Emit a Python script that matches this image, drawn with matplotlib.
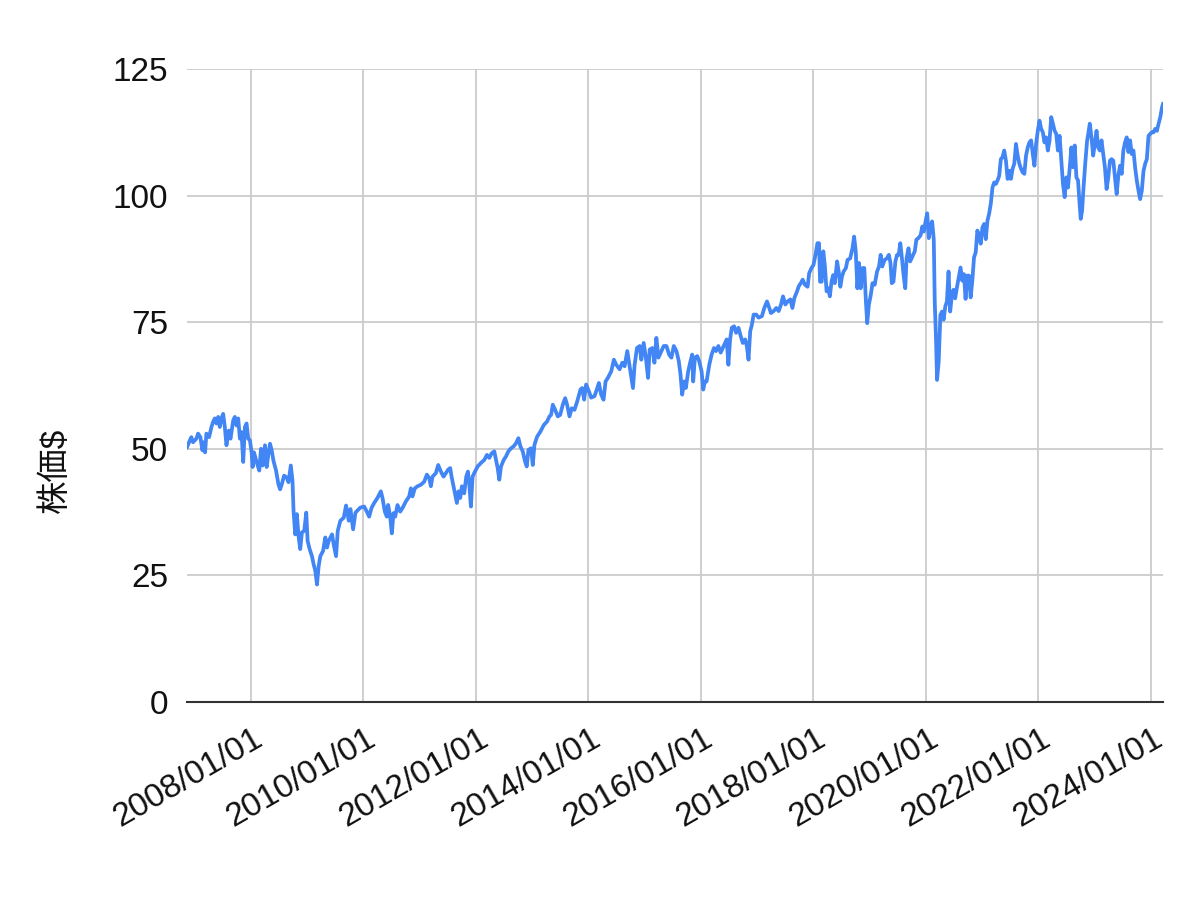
import matplotlib
matplotlib.use("Agg")
import matplotlib.pyplot as plt
import matplotlib.dates as mdates
import matplotlib.transforms as mtransforms
from datetime import datetime, timedelta

# ---- data (decimal year, price) ----
years_2007_2009 = [2006.863, 2006.911, 2006.940, 2006.970, 2007.030, 2007.060, 2007.101, 2007.137, 2007.161, 2007.185,
                   2007.208, 2007.256, 2007.298, 2007.327, 2007.357, 2007.387, 2007.417, 2007.446, 2007.476, 2007.506,
                   2007.536, 2007.565, 2007.607, 2007.637, 2007.685, 2007.714, 2007.744, 2007.774, 2007.804, 2007.833,
                   2007.863, 2007.893, 2007.923, 2007.952, 2007.982, 2008.012, 2008.030, 2008.054, 2008.101, 2008.149,
                   2008.179, 2008.208, 2008.250, 2008.280, 2008.315, 2008.339, 2008.369, 2008.399, 2008.446, 2008.488,
                   2008.518, 2008.548, 2008.589, 2008.637, 2008.667, 2008.708, 2008.738, 2008.756, 2008.786, 2008.815,
                   2008.845, 2008.875, 2008.905, 2008.946, 2008.982, 2009.006, 2009.042, 2009.083, 2009.113, 2009.143,
                   2009.173, 2009.202, 2009.232, 2009.280, 2009.321, 2009.351, 2009.381, 2009.440, 2009.470, 2009.512,
                   2009.542, 2009.589, 2009.649, 2009.690, 2009.738, 2009.768, 2009.815, 2009.857, 2009.917, 2009.946]
price_2007_2009 = [50.3, 51.6, 52.3, 51.3, 52.0, 53.0, 52.3, 49.7, 51.3, 49.3,
                   53.0, 52.3, 54.3, 55.3, 56.0, 55.0, 56.3, 54.3, 56.0, 56.9,
                   54.3, 50.7, 53.6, 52.0, 55.6, 56.3, 54.6, 56.0, 52.0, 53.3,
                   47.4, 54.3, 55.0, 52.0, 51.7, 49.3, 46.4, 49.3, 47.4, 45.7,
                   50.0, 46.7, 50.7, 46.4, 49.3, 51.0, 49.7, 47.7, 45.7, 43.0,
                   42.0, 43.0, 44.7, 44.3, 43.4, 46.7, 43.7, 37.8, 33.1, 37.1,
                   32.8, 30.2, 33.5, 33.8, 37.4, 31.8, 30.2, 28.8, 27.2, 25.9,
                   23.2, 26.8, 28.8, 29.8, 32.5, 30.5, 31.8, 33.1, 31.1, 28.8,
                   33.8, 35.8, 36.4, 38.8, 35.8, 38.1, 34.1, 37.4, 38.1, 38.4]

years_2010_2013 = [2010.012, 2010.059, 2010.101, 2010.142, 2010.190, 2010.249, 2010.309, 2010.338, 2010.380, 2010.415,
                   2010.439, 2010.475, 2010.504, 2010.534, 2010.564, 2010.605, 2010.653, 2010.694, 2010.754, 2010.813,
                   2010.843, 2010.872, 2010.914, 2010.961, 2011.021, 2011.080, 2011.128, 2011.169, 2011.199, 2011.228,
                   2011.288, 2011.329, 2011.377, 2011.424, 2011.466, 2011.507, 2011.543, 2011.567, 2011.602, 2011.632,
                   2011.662, 2011.691, 2011.721, 2011.751, 2011.792, 2011.828, 2011.858, 2011.881, 2011.911, 2011.941,
                   2011.970, 2012.030, 2012.089, 2012.148, 2012.196, 2012.237, 2012.279, 2012.326, 2012.356, 2012.386,
                   2012.415, 2012.445, 2012.493, 2012.534, 2012.576, 2012.623, 2012.671, 2012.712, 2012.754, 2012.789,
                   2012.831, 2012.872, 2012.902, 2012.932, 2012.979, 2013.009, 2013.039, 2013.086, 2013.145, 2013.205,
                   2013.264, 2013.306, 2013.335, 2013.365, 2013.407, 2013.454, 2013.496, 2013.543, 2013.585, 2013.620,
                   2013.662, 2013.703, 2013.751, 2013.798, 2013.858]
price_2010_2013 = [38.6, 37.6, 36.6, 38.3, 39.3, 40.3, 41.6, 40.3, 37.6, 36.6,
                   38.9, 36.6, 33.3, 37.3, 36.6, 38.9, 37.6, 38.3, 39.6, 40.6,
                   42.2, 40.6, 42.2, 42.6, 42.9, 43.5, 44.9, 44.2, 42.6, 44.5,
                   45.2, 46.8, 45.5, 44.5, 45.2, 45.9, 46.2, 44.5, 42.6, 40.9,
                   39.3, 41.6, 40.3, 42.6, 41.2, 44.5, 45.5, 43.2, 38.6, 44.5,
                   45.2, 46.5, 47.2, 47.8, 48.8, 48.2, 49.1, 49.5, 47.8, 46.2,
                   43.9, 46.5, 47.8, 48.5, 49.5, 50.1, 50.5, 51.1, 52.1, 50.5,
                   49.5, 47.5, 46.5, 49.8, 50.1, 46.8, 50.8, 52.4, 53.4, 54.7,
                   55.4, 56.4, 56.7, 58.7, 57.7, 56.4, 56.7, 58.7, 60.0, 58.7,
                   56.4, 58.0, 57.7, 59.3, 61.7]

years_2014_2017 = [2013.887, 2013.923, 2013.958, 2014.006, 2014.048, 2014.107, 2014.149, 2014.185, 2014.226, 2014.268,
                   2014.304, 2014.345, 2014.405, 2014.452, 2014.494, 2014.554, 2014.601, 2014.643, 2014.690, 2014.732,
                   2014.762, 2014.792, 2014.821, 2014.863, 2014.911, 2014.940, 2014.982, 2015.018, 2015.060, 2015.089,
                   2015.137, 2015.173, 2015.208, 2015.244, 2015.298, 2015.339, 2015.387, 2015.435, 2015.476, 2015.518,
                   2015.565, 2015.607, 2015.637, 2015.667, 2015.702, 2015.732, 2015.774, 2015.815, 2015.845, 2015.863,
                   2015.893, 2015.935, 2015.970, 2016.012, 2016.042, 2016.071, 2016.101, 2016.149, 2016.190, 2016.232,
                   2016.268, 2016.310, 2016.351, 2016.387, 2016.429, 2016.458, 2016.488, 2016.518, 2016.548, 2016.589,
                   2016.625, 2016.667, 2016.708, 2016.744, 2016.786, 2016.815, 2016.845, 2016.875, 2016.905, 2016.935,
                   2016.982, 2017.024, 2017.083, 2017.125, 2017.173, 2017.202, 2017.244, 2017.292, 2017.339, 2017.381,
                   2017.423, 2017.458, 2017.500, 2017.542, 2017.589, 2017.625, 2017.661, 2017.708, 2017.738, 2017.780]
price_2014_2017 = [62.0, 59.7, 62.7, 61.4, 60.1, 60.4, 61.7, 63.0, 60.7, 59.7,
                   63.3, 64.0, 65.3, 67.6, 66.6, 65.7, 67.0, 66.3, 69.3, 66.3,
                   64.3, 62.0, 66.6, 69.9, 70.3, 67.6, 70.9, 68.3, 64.0, 69.6,
                   69.9, 67.0, 71.9, 68.0, 69.3, 70.3, 70.3, 68.6, 68.0, 70.3,
                   69.3, 67.3, 64.7, 60.7, 63.3, 62.0, 65.3, 67.3, 68.6, 63.3,
                   68.0, 68.3, 67.3, 65.3, 61.7, 63.3, 63.3, 66.6, 68.6, 69.9,
                   69.3, 70.3, 69.0, 69.9, 70.9, 71.6, 66.6, 71.6, 73.9, 74.2,
                   72.9, 73.9, 72.2, 70.9, 71.6, 70.3, 67.6, 73.2, 74.5, 76.5,
                   76.5, 75.9, 76.2, 77.8, 79.1, 78.2, 76.8, 77.2, 77.8, 77.2,
                   78.5, 80.1, 78.5, 79.1, 79.5, 77.8, 79.8, 81.1, 82.1, 82.8]

years_2018_2020 = [2017.808, 2017.848, 2017.895, 2017.924, 2017.965, 2018.000, 2018.041, 2018.070, 2018.099, 2018.117,
                   2018.146, 2018.175, 2018.204, 2018.233, 2018.262, 2018.292, 2018.321, 2018.350, 2018.379, 2018.420,
                   2018.449, 2018.478, 2018.507, 2018.536, 2018.577, 2018.606, 2018.653, 2018.694, 2018.723, 2018.752,
                   2018.781, 2018.810, 2018.840, 2018.875, 2018.904, 2018.933, 2018.956, 2018.985, 2019.020, 2019.050,
                   2019.090, 2019.131, 2019.166, 2019.195, 2019.224, 2019.265, 2019.306, 2019.341, 2019.370, 2019.394,
                   2019.423, 2019.458, 2019.487, 2019.516, 2019.545, 2019.574, 2019.603, 2019.633, 2019.656, 2019.691,
                   2019.720, 2019.761, 2019.802, 2019.831, 2019.866, 2019.907, 2019.936, 2019.965, 2019.994, 2020.023,
                   2020.052, 2020.082, 2020.111, 2020.140, 2020.157, 2020.181, 2020.198, 2020.227, 2020.257, 2020.286,
                   2020.315, 2020.344, 2020.373, 2020.402, 2020.431, 2020.461, 2020.490, 2020.519, 2020.548]
price_2018_2020 = [83.4, 82.4, 82.0, 84.7, 85.7, 86.3, 88.6, 90.6, 90.6, 83.0,
                   83.0, 89.0, 86.0, 81.1, 81.7, 80.1, 83.0, 84.3, 82.7, 87.0,
                   85.0, 82.0, 84.0, 85.0, 85.7, 87.3, 87.6, 89.6, 91.9, 89.0,
                   81.7, 86.7, 81.7, 85.7, 85.7, 79.1, 74.8, 78.4, 80.4, 82.7,
                   82.4, 85.0, 86.0, 88.3, 86.0, 87.3, 87.6, 88.3, 86.7, 82.7,
                   83.0, 87.0, 88.3, 88.3, 90.6, 87.6, 84.3, 81.7, 87.6, 89.6,
                   87.0, 88.0, 89.0, 91.3, 91.6, 92.2, 93.9, 92.9, 94.9, 96.5,
                   91.6, 93.9, 94.9, 91.3, 79.1, 71.2, 63.6, 67.2, 76.4, 77.1,
                   75.5, 78.1, 79.1, 85.0, 77.1, 80.4, 81.4, 79.7, 81.7]

years_2020_2024 = [2020.585, 2020.615, 2020.645, 2020.675, 2020.704, 2020.734, 2020.764, 2020.794, 2020.824, 2020.854,
                   2020.884, 2020.913, 2020.943, 2020.973, 2021.003, 2021.033, 2021.063, 2021.093, 2021.122, 2021.152,
                   2021.182, 2021.212, 2021.242, 2021.272, 2021.301, 2021.331, 2021.361, 2021.391, 2021.421, 2021.451,
                   2021.481, 2021.510, 2021.540, 2021.570, 2021.600, 2021.630, 2021.660, 2021.690, 2021.719, 2021.749,
                   2021.779, 2021.809, 2021.839, 2021.869, 2021.899, 2021.928, 2021.958, 2021.988, 2022.018, 2022.048,
                   2022.078, 2022.107, 2022.137, 2022.167, 2022.197, 2022.227, 2022.257, 2022.287, 2022.316, 2022.346,
                   2022.376, 2022.406, 2022.436, 2022.466, 2022.496, 2022.525, 2022.555, 2022.585, 2022.615, 2022.645,
                   2022.675, 2022.704, 2022.734, 2022.752, 2022.776, 2022.806, 2022.836, 2022.866, 2022.890, 2022.913,
                   2022.943, 2022.973, 2023.003, 2023.033, 2023.063, 2023.093, 2023.122, 2023.152, 2023.182, 2023.212,
                   2023.242, 2023.272, 2023.301, 2023.331, 2023.361, 2023.391, 2023.421, 2023.451, 2023.481, 2023.510,
                   2023.540, 2023.570, 2023.600, 2023.630, 2023.660, 2023.690, 2023.719, 2023.749, 2023.779, 2023.809,
                   2023.839, 2023.869, 2023.899, 2023.928, 2023.958, 2023.988, 2024.018, 2024.048, 2024.078, 2024.107,
                   2024.137, 2024.167, 2024.197, 2024.215]
price_2020_2024 = [83.9, 85.8, 83.2, 84.5, 79.6, 84.2, 84.2, 79.9, 83.2, 87.8,
                   88.8, 93.1, 92.1, 90.5, 93.7, 94.4, 91.4, 95.1, 96.4, 98.4,
                   101.6, 102.6, 102.3, 103.0, 103.9, 107.2, 107.6, 108.9, 106.9, 103.3,
                   104.9, 103.3, 105.3, 106.3, 110.2, 107.9, 106.3, 105.3, 104.6, 104.3,
                   107.9, 109.5, 110.5, 110.9, 108.2, 105.9, 110.2, 112.8, 114.8, 113.2,
                   112.5, 110.5, 111.5, 108.9, 110.9, 115.5, 114.2, 112.8, 112.2, 108.9,
                   111.8, 106.9, 102.3, 99.7, 103.6, 101.6, 105.3, 109.5, 105.6, 109.9,
                   103.6, 103.0, 98.0, 95.4, 97.0, 102.3, 106.9, 110.9, 112.5, 114.2,
                   111.5, 107.9, 110.2, 112.8, 109.5, 108.9, 110.9, 108.2, 105.6, 101.3,
                   103.6, 106.9, 107.2, 106.9, 103.6, 100.3, 103.9, 105.9, 104.3, 108.9,
                   110.5, 111.5, 108.6, 110.9, 108.2, 108.9, 105.6, 103.0, 101.0, 99.3,
                   101.0, 104.9, 106.3, 107.2, 111.8, 112.2, 112.5, 112.5, 113.2, 112.8,
                   114.2, 115.5, 117.4, 118.1]

tick_years = [2008, 2010, 2012, 2014, 2016, 2018, 2020, 2022, 2024]
y_ticks = [0, 25, 50, 75, 100, 125]
y_label = "株価$"

# ---- build series ----
def dec_to_dt(y):
    yr = int(y)
    start = datetime(yr, 1, 1)
    days = (datetime(yr + 1, 1, 1) - start).days
    return start + timedelta(days=(y - yr) * days)

all_years = years_2007_2009 + years_2010_2013 + years_2014_2017 + years_2018_2020 + years_2020_2024
all_price = price_2007_2009 + price_2010_2013 + price_2014_2017 + price_2018_2020 + price_2020_2024
dates = [dec_to_dt(y) for y in all_years]

plt.rcParams['font.family'] = ['Liberation Sans', 'Noto Sans CJK JP', 'DejaVu Sans']

W, H = 1200, 916
fig = plt.figure(figsize=(W / 100, H / 100), dpi=100)
ax = fig.add_axes([187 / W, 1 - 702 / H, (1163 - 187) / W, (702 - 69) / H])

ax.plot(dates, all_price, color='#4285F4', linewidth=2.7, solid_joinstyle='round', zorder=3)

ax.set_xlim(dates[0], dates[-1])
ax.set_ylim(0, 125)

tick_dates = [datetime(y, 1, 1) for y in tick_years]
ax.set_xticks(tick_dates)
ax.set_xticklabels([])
ax.set_yticks(y_ticks)
ax.set_yticklabels([str(v) for v in y_ticks], fontsize=24, color='#111111')
ax.tick_params(axis='both', length=0)
ax.tick_params(axis='y', pad=13.5)

ax.grid(True, color='#cccccc', linewidth=1.3, zorder=0)
ax.set_axisbelow(True)
for s in ['top', 'right', 'left']:
    ax.spines[s].set_visible(False)
ax.spines['bottom'].set_color('#333333')
ax.spines['bottom'].set_linewidth(1.5)
ax.spines['bottom'].set_zorder(4)

# slanted x tick labels
offset = mtransforms.ScaledTranslation(10 / 100, -34.5 / 100, fig.dpi_scale_trans)
trans = ax.get_xaxis_transform() + offset
for d in tick_dates:
    ax.text(d, 0, d.strftime('%Y/%m/%d'), transform=trans, rotation=30,
            rotation_mode='anchor', ha='right', va='center', fontsize=24,
            color='#111111', clip_on=False)

fig.text(55.5 / W, 1 - 470 / H, y_label, rotation=90, ha='center', va='center',
         fontsize=24, color='#111111')

fig.savefig('out.png', dpi=100, facecolor='white')
